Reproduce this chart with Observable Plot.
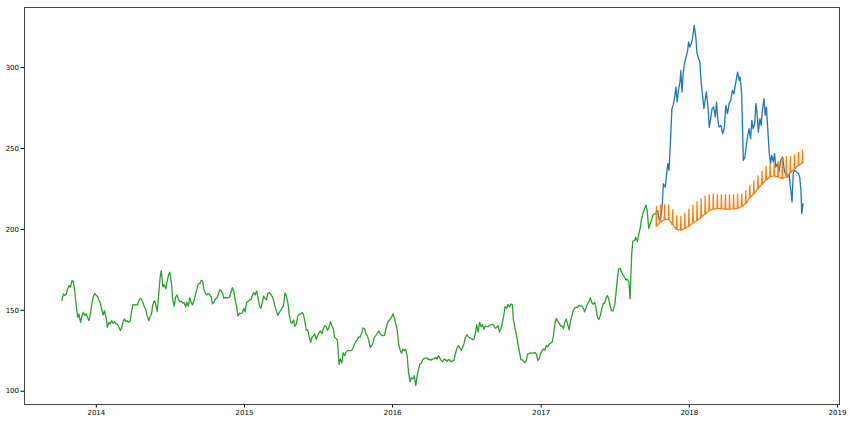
<!DOCTYPE html>
<html><head><meta charset="utf-8">
<script src="https://cdn.jsdelivr.net/npm/d3@7"></script>
<script src="https://cdn.jsdelivr.net/npm/@observablehq/plot@0.6"></script>
<style>body{margin:0;background:#fff;} #chart svg{display:block;}</style>
</head><body><div id="chart"></div>
<script>
// ---- Data ----
// Training series (green): semi-weekly samples (every 3.5 days) starting 2013-10-08
const greenStart = "2013-10-08";
const greenValues = [
156,160.1,159.1,160,163.2,165.3,164.2,168.3,168,161.5,
153.9,145.7,147.7,142.6,146,148.8,146.7,147.7,145.7,143.6,
147.7,153.9,158.1,160.5,159.5,158.5,156.5,154.5,150.8,147,
149.8,145.7,139.5,142.6,141.6,143.6,142,143,141.5,141.5,
140,137.5,139,143,144.7,143,143.6,142.6,143,149.5,
153.5,153.2,153.5,153.3,155.5,157.5,157,154.5,152.4,150.2,
147,143.6,145.7,148,153.3,156,154,149.3,158,170,
174.5,164.5,166,163.2,167.5,171.7,173.5,167,157,152.5,
158,159.5,157,155.3,155.8,154.4,154.8,152,155,152.5,
157.8,154.6,153.4,156,159.7,163.2,166.3,166.5,168.5,168,
163.2,160.3,159.5,160.5,159.8,158.2,154,155,157,
157.5,159.5,162.5,162.5,160.5,157.5,158,157.5,158,158,
161.5,164,161.5,156.3,151.8,146.5,148.3,148,148.5,151.3,
149,154.8,155.5,156.5,156.4,159,161,159.4,162,158,
152.8,151.2,154.8,158.8,157.3,156.5,160.5,161,159.7,158.7,
156,152.4,149.3,146.8,148.8,149.9,151.7,152.5,160.8,159,
154.5,147.5,142.5,142.1,144,140,141.7,146.1,147.6,147.7,
148.7,147.5,143,137.7,137.9,134,130,133.3,134.3,135.2,
132,134.3,136.2,137.3,135.5,138.5,140.5,140,137.6,139.5,
143,140.6,138.5,133.5,132.5,131.5,116.5,120,117.5,123.8,
122,124,125.1,125.1,125.1,125.3,127,129.2,130.8,132,
133.6,133.5,136,139.2,138.6,135.4,134.2,131.5,127,
128,130.3,133.4,134.5,135.8,137.2,135.7,134.8,134.3,134.5,
138,142,143.5,144.5,145.6,147.8,145.5,141.3,138,129,
125.8,123.5,126,125.1,126,121.5,112,105.8,108.3,107.7,
109.6,103.5,109,113.5,116.9,117.3,119.4,120.4,120.5,120.6,
119.6,119.7,119.2,120,120,121,120,122,120.7,118.8,
118.3,119.8,119.5,118.5,119.5,119.3,118.3,118.8,119,123.5,
126.2,128.2,127,125.2,126.7,129.5,133,135,133.9,132.8,
132.8,131.9,132.1,135.8,141.2,136.6,142.6,139.8,141.2,138.3,
140.3,139.9,140.1,140.6,141,141.3,140.9,139,139.4,140.5,
136.6,138.4,142.1,147,152.2,151.3,153.6,152,154,153.2,
143.3,138.4,135,128.8,125,119.5,119.5,118.5,117.5,
119.5,123.1,123.3,123.7,123.6,123.6,124,123,119,120,
123.5,125,126.2,125.5,128.1,127.5,129,129.7,130.3,134,
142,145,143,142.3,140.2,140.4,138.8,142.5,144.6,141.4,
138,143.4,146.6,150,151.5,151.9,151.8,153,152.5,152.7,
151.2,149,151.8,154,155.4,157.8,154.5,153.8,154.8,151.8,
145.2,144.3,147,150.7,154.3,154.2,157.6,159.1,156.7,152.5,
149.6,149.6,153.2,160,170,175.5,176,173.5,171.8,170.6,
168.7,169.3,167.5,157,185,192.8,193,195,192.5,196.5,
201,206,210,212.3,215,212.2,200.5,203,205.8,208.7,
209.6,209.6
];

// Actual test series (blue)
const blueDates = [
"2017-10-11","2017-10-15","2017-10-19","2017-10-23","2017-10-26","2017-10-29","2017-11-03","2017-11-06","2017-11-09","2017-11-12",
"2017-11-16","2017-11-19","2017-11-22","2017-11-26","2017-11-29","2017-12-02","2017-12-05","2017-12-09","2017-12-11","2017-12-14",
"2017-12-17","2017-12-20","2017-12-24","2017-12-28","2017-12-30","2018-01-02","2018-01-06","2018-01-09","2018-01-13","2018-01-17",
"2018-01-20","2018-01-24","2018-01-27","2018-01-30","2018-02-03","2018-02-06","2018-02-09","2018-02-12","2018-02-16","2018-02-19",
"2018-02-22","2018-02-26","2018-03-02","2018-03-06","2018-03-09","2018-03-12","2018-03-15","2018-03-20","2018-03-24","2018-03-28",
"2018-04-01","2018-04-05","2018-04-09","2018-04-13","2018-04-17","2018-04-21","2018-04-25","2018-04-30","2018-05-04","2018-05-06",
"2018-05-10","2018-05-12","2018-05-14","2018-05-18","2018-05-22","2018-05-25","2018-05-28","2018-06-01","2018-06-04","2018-06-07",
"2018-06-11","2018-06-14","2018-06-17","2018-06-20","2018-06-24","2018-06-27","2018-06-30","2018-07-04","2018-07-07","2018-07-10",
"2018-07-13","2018-07-17","2018-07-20","2018-07-23","2018-07-27","2018-07-30","2018-08-02","2018-08-06","2018-08-10","2018-08-14",
"2018-08-19","2018-08-23","2018-08-27","2018-08-31","2018-09-04","2018-09-06","2018-09-09","2018-09-11","2018-09-14","2018-09-17",
"2018-09-22","2018-09-27","2018-09-30","2018-10-03","2018-10-05","2018-10-08"
];
const blueValues = [
210.7,211.7,205.6,207.7,213.8,228.2,226.1,234.4,240.6,236.5,
257,274.6,276.6,281.8,288,278.7,285.9,291,298.2,284.9,
296.2,302.4,306.5,310.6,315.8,312.7,314.8,317.9,326.1,318.9,
308.6,305.5,303.4,291,281.8,274.6,279.7,284.9,275.6,263.2,
267.4,274.6,275.6,269.4,278.7,268.4,263.2,264.3,259.1,262.2,
276.6,271.5,277.7,279.7,285.9,283.8,290,297.2,292.1,294.1,
283.8,263.2,242.6,244.7,252.9,258.1,262.2,256.1,267.4,262.2,
265.3,277.7,271.5,260.1,268.4,264.3,273.5,280.8,270.5,275.6,
263.2,246.8,240.6,245.7,241.6,246.8,238.5,240.6,235.5,242.6,
244.7,236.5,233.4,232.3,234.4,228.2,222.1,216.9,234.4,236.5,
235.5,234.4,232.3,224.1,209.7,215.9
];

// Forecast series (orange): a spike every 10 days from 2017-10-11
const orangeStart = "2017-10-11";
const orangeLow = [
202,204.5,206,206,203,200,199.5,200.5,202,204,
205.5,207.5,209.5,211.5,212.5,213,212.8,212.5,212.5,212.7,
213,214,216,219.5,222,225,228,230.5,232.5,233,
232.3,231.5,232.5,235,237.5,239.5,241
];
const orangeHigh = [
214,215,215.5,215,212,208.5,208,210,212.5,215,
217,219,220.5,221.5,222,221.5,221.5,221.5,221.5,221.5,
222,222,224,227,230,233,236,239,240.5,241,
242,244,245,245,246,247.5,249
];

const xDomain = ["2013-07-08", "2019-01-06"];
const xTickYears = ["2014-01-01","2015-01-01","2016-01-01","2017-01-01","2018-01-01","2019-01-01"];
const yDomain = [91.8, 337.1];
const yTicks = [100, 150, 200, 250, 300];

// ---- Build tables ----
const parse = d3.utcParse("%Y-%m-%d");
const g0 = parse(greenStart);
const green = greenValues.map((v, i) => ({date: d3.utcDay.offset(g0, Math.round(3.5 * i)), value: v}));
const blue = blueDates.map((d, i) => ({date: parse(d), value: blueValues[i]}));
const o0 = parse(orangeStart);
const orange = [];
orangeLow.forEach((lo, i) => {
  const d = d3.utcDay.offset(o0, 10 * i);
  orange.push({date: d, value: lo});
  orange.push({date: d3.utcDay.offset(d, 1), value: orangeHigh[i]});
  orange.push({date: d3.utcDay.offset(d, 2), value: lo});
});

const chart = Plot.plot({
  width: 850,
  height: 422,
  marginLeft: 24,
  marginRight: 11,
  marginTop: 7,
  marginBottom: 18,
  style: {fontFamily: "DejaVu Sans", fontSize: "7px", color: "#000", background: "#fff"},
  x: {type: "utc", domain: xDomain.map(parse), label: null},
  y: {domain: yDomain, label: null},
  marks: [
    Plot.axisX({ticks: xTickYears.map(parse), tickFormat: d3.utcFormat("%Y"), tickSize: 3.5, tickPadding: 2, label: null}),
    Plot.axisY({ticks: yTicks, tickSize: 3.5, tickPadding: 2, label: null}),
    Plot.line(blue, {x: "date", y: "value", stroke: "#1f77b4", strokeWidth: 1.3}),
    Plot.line(orange, {x: "date", y: "value", stroke: "#ff7f0e", strokeWidth: 1.3}),
    Plot.line(green, {x: "date", y: "value", stroke: "#2ca02c", strokeWidth: 1.3}),
    Plot.frame({stroke: "#444", strokeWidth: 1})
  ]
});
document.getElementById("chart").appendChild(chart);
</script>
</body></html>
